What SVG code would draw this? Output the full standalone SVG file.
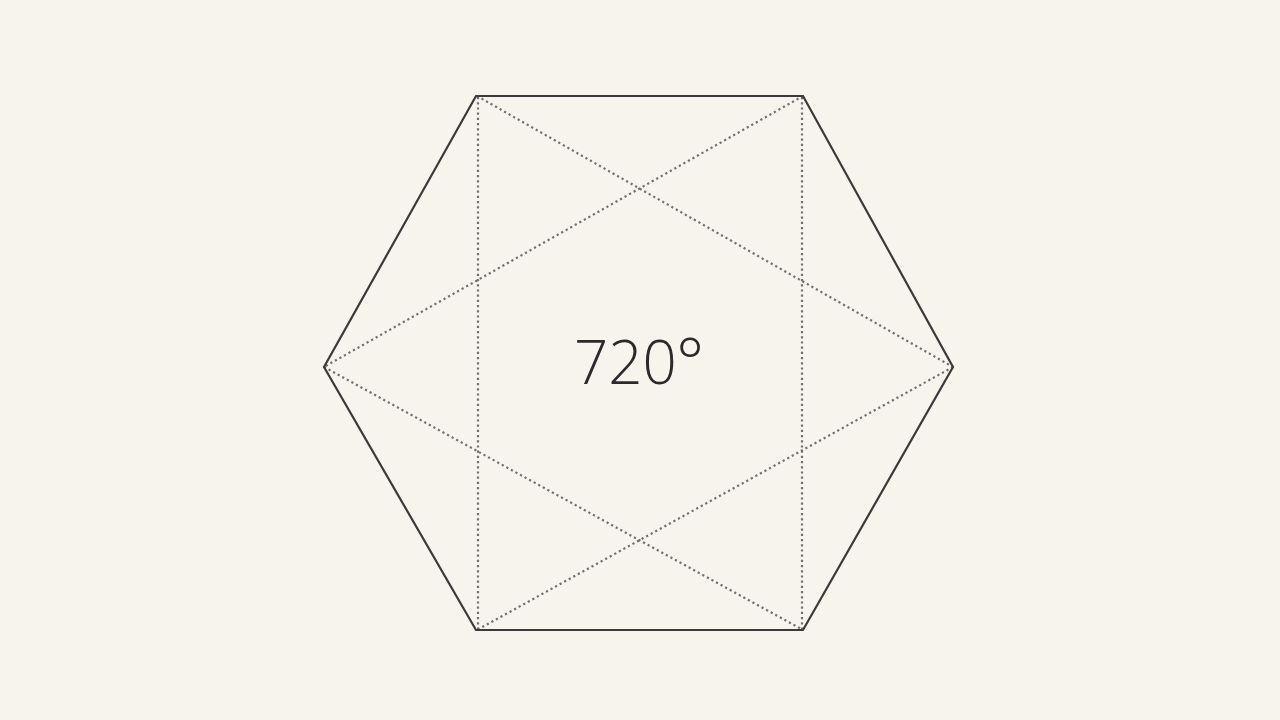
<svg xmlns="http://www.w3.org/2000/svg" width="1280" height="720" viewBox="0 0 1280 720">
<style>
.hex{fill:none;stroke:#3a3a3a;stroke-width:2.2;stroke-linejoin:miter}
.dot{fill:none;stroke:#707070;stroke-width:2.2;stroke-dasharray:2.2 3}
.lbl{font-family:"Open Sans","Liberation Sans",sans-serif;font-size:60px;font-weight:300;fill:#2a2a2a}
.deg{font-size:66px}
</style>
<rect width="1280" height="720" fill="#f7f4ee"/>
<g id="connectors">
<line class="dot" x1="478" y1="97" x2="478" y2="629"/>
<line class="dot" x1="802" y1="97" x2="802" y2="629"/>
<line class="dot" x1="477" y1="96" x2="953" y2="367"/>
<line class="dot" x1="803" y1="96" x2="324" y2="367"/>
<line class="dot" x1="324" y1="367" x2="803" y2="630"/>
<line class="dot" x1="953" y1="367" x2="477" y2="630"/>
</g>
<g id="hexagon">
<polygon class="hex" points="476,96 803,96 953,367 803,630 476,630 324,367"/>
</g>
<g id="label">
<text class="lbl" x="574" y="384">720<tspan class="deg" x="676" y="386">°</tspan></text>
</g>
</svg>
